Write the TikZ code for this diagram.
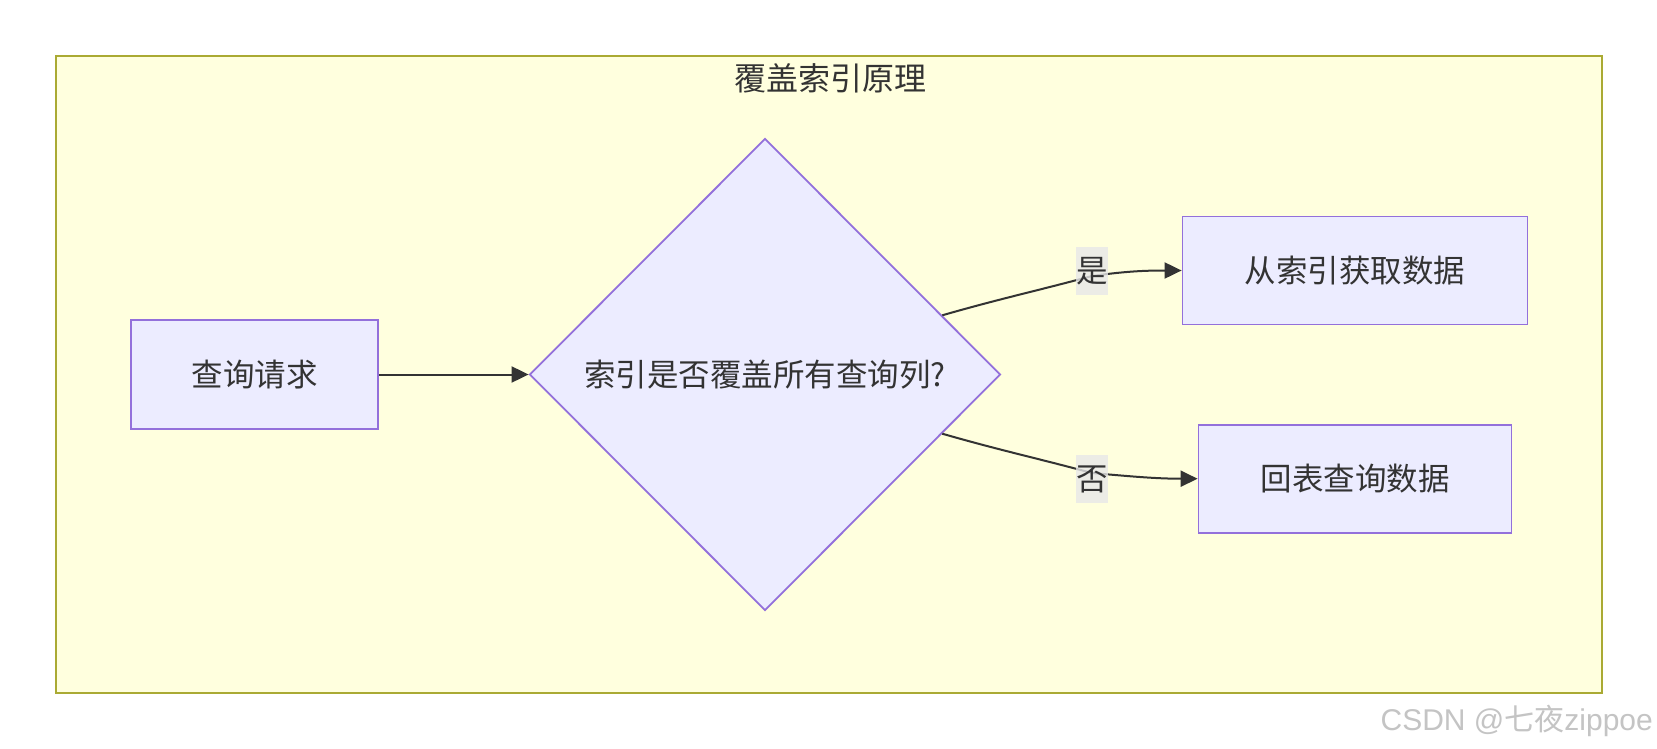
\documentclass[tikz,border=0pt]{standalone}
\usepackage{fontspec}
\setmainfont{Noto Sans CJK SC}
\newfontfamily\markLatin{Liberation Sans}
\usepackage{tikz}
\usetikzlibrary{arrows.meta,calc,shapes.geometric}
\definecolor{clusterFill}{HTML}{FFFFDE}
\definecolor{clusterLine}{HTML}{AAAA33}
\definecolor{boxFill}{HTML}{ECECFF}
\definecolor{boxLine}{HTML}{9370DB}
\definecolor{inkDark}{HTML}{333333}
\definecolor{labelGray}{HTML}{E8E8E8}
\definecolor{markGray}{HTML}{C4C4C4}

\begin{document}
\begin{tikzpicture}[x=1pt,y=-1pt,
  box/.style={draw=boxLine,fill=boxFill,line width=1.8pt,text=inkDark,font=\fontsize{31.5}{36}\selectfont,inner sep=0pt},
  decide/.style={box,diamond,aspect=1},
  elabel/.style={fill=labelGray,fill opacity=0.8,text opacity=1,text=inkDark,font=\fontsize{31.5}{36}\selectfont,inner xsep=0pt,minimum height=48pt},
  arr/.style={draw=inkDark,line width=2pt,-{Triangle[length=17pt,width=16pt]}}]
\useasboundingbox[fill=white] (0,0) rectangle (1657,749);
\draw[draw=clusterLine,fill=clusterFill,line width=2pt] (56,56) rectangle (1602,693);
\node[text=inkDark,font=\fontsize{32}{36}\selectfont] (title) at (830,78) {覆盖索引原理};
\node[box,minimum width=247pt,minimum height=109pt] (req) at (254.5,374.5) {查询请求};
\node[decide,minimum width=471pt,minimum height=472pt] (chk) at (765,374.5) {索引是否覆盖所有查询列?};
\node[box,minimum width=345pt,minimum height=108pt] (fromIdx) at (1355,270.5) {从索引获取数据};
\node[box,minimum width=313pt,minimum height=108pt] (backTbl) at (1355,478.7) {回表查询数据};
\coordinate (yesAt) at (1092,276);
\coordinate (noAt) at (1092,473);
\draw[arr] (req) -- (chk);
\draw[arr] ($(chk.north east)!0.5!(chk.east)$) to[out=16,in=195] (yesAt) to[out=8,in=180] (fromIdx);
\draw[arr] ($(chk.south east)!0.5!(chk.east)$) to[out=-16,in=165] (noAt) to[out=-5,in=180] (backTbl);
\node[elabel] (yes) at (1092,271) {是};
\node[elabel] (no) at (1092,479) {否};
\node[text=markGray,font=\fontsize{30}{34}\selectfont,anchor=east,inner sep=0pt] (mark) at (1653,721) {{\markLatin CSDN @}七夜{\markLatin zippoe}};
\end{tikzpicture}
\end{document}
